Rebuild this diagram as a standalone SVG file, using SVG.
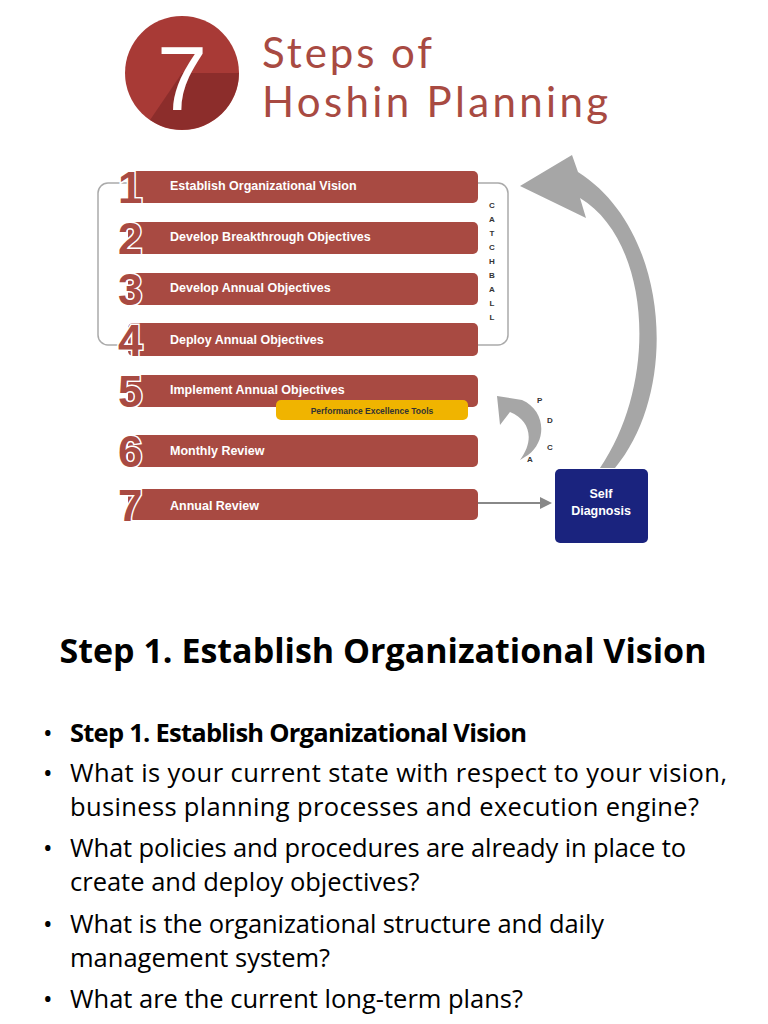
<svg xmlns="http://www.w3.org/2000/svg" width="768" height="1024" viewBox="0 0 768 1024">
<style>
.bar{fill:#a84a42}
.bt{font-family:"Liberation Sans",Arial,sans-serif;font-weight:bold;font-size:12.5px;fill:#fff}
.num{font-family:"Liberation Sans",Arial,sans-serif;font-weight:bold;font-size:44px;fill:#a84a42;stroke:#fff;stroke-width:3;paint-order:stroke}
.cb{font-family:"Liberation Sans",Arial,sans-serif;font-weight:bold;font-size:8px;fill:#333}
.body{font-family:"Open Sans","Liberation Sans",sans-serif;font-size:25.5px;fill:#000}
</style>
<rect width="768" height="1024" fill="#fff"/>
<g id="logo">
<circle cx="182" cy="73" r="57" fill="#a83a36"/>
<path d="M182,73 L239,73 A57,57 0 0 1 150,120 Z" fill="#7a2424" opacity="0.6"/>
<text x="182" y="110" text-anchor="middle" font-family="Liberation Sans,sans-serif" font-size="90" fill="#fff">7</text>
<text x="262" y="68" font-family="Lato,'Open Sans',sans-serif" font-size="42" fill="#a84a42" textLength="170">Steps of</text>
<text x="262" y="117" font-family="Lato,'Open Sans',sans-serif" font-size="42" fill="#a84a42" textLength="346">Hoshin Planning</text>
</g>
<g id="connectors">
<rect x="98" y="183" width="410" height="162" rx="10" fill="none" stroke="#aaa" stroke-width="1.5"/>
<path d="M600,468 C660,380 650,240 580,198 L586,218 L520,186 L572,155 L578,172 C670,230 680,390 615,468 Z" fill="#a6a6a6"/>
<path d="M522,400 C545,410 548,440 528,455 L520,460 C535,440 530,420 510,412 L500,425 L497,396 Z" fill="#a6a6a6"/>
<line x1="478" y1="503" x2="540" y2="503" stroke="#888" stroke-width="2"/>
<polygon points="540,497 552,503 540,509" fill="#888"/>
</g>
<g id="catchball">
<text class="cb" text-anchor="middle" x="492"><tspan x="492" y="208">C</tspan><tspan x="492" y="222">A</tspan><tspan x="492" y="236">T</tspan><tspan x="492" y="250">C</tspan><tspan x="492" y="264">H</tspan><tspan x="492" y="278">B</tspan><tspan x="492" y="292">A</tspan><tspan x="492" y="306">L</tspan><tspan x="492" y="320">L</tspan></text>
<text class="cb" x="537" y="403">P</text><text class="cb" x="547" y="423">D</text><text class="cb" x="547" y="450">C</text><text class="cb" x="527" y="462">A</text>
</g>
<g id="s1"><rect class="bar" x="128" y="171" width="350" height="32" rx="5"/><text class="num" x="118" y="203">1</text><text class="bt" x="170" y="190">Establish Organizational Vision</text></g>
<g id="s2"><rect class="bar" x="128" y="222" width="350" height="32" rx="5"/><text class="num" x="118" y="254">2</text><text class="bt" x="170" y="241">Develop Breakthrough Objectives</text></g>
<g id="s3"><rect class="bar" x="128" y="273" width="350" height="32" rx="5"/><text class="num" x="118" y="305">3</text><text class="bt" x="170" y="292">Develop Annual Objectives</text></g>
<g id="s4"><rect class="bar" x="128" y="323" width="350" height="33" rx="5"/><text class="num" x="118" y="356">4</text><text class="bt" x="170" y="344">Deploy Annual Objectives</text></g>
<g id="s5"><rect class="bar" x="128" y="375" width="350" height="32" rx="5"/><text class="num" x="118" y="407">5</text><text class="bt" x="170" y="394">Implement Annual Objectives</text>
<rect x="276" y="400" width="192" height="20" rx="5" fill="#f0b400"/><text x="372" y="414" text-anchor="middle" font-family="Liberation Sans,sans-serif" font-weight="bold" font-size="8.5" fill="#333">Performance Excellence Tools</text></g>
<g id="s6"><rect class="bar" x="128" y="435" width="350" height="32" rx="5"/><text class="num" x="118" y="467">6</text><text class="bt" x="170" y="455">Monthly Review</text></g>
<g id="s7"><rect class="bar" x="128" y="489" width="350" height="31" rx="5"/><text class="num" x="118" y="521">7</text><text class="bt" x="170" y="510">Annual Review</text></g>
<g id="self"><rect x="555" y="469" width="93" height="74" rx="5" fill="#1a237e"/><text x="601" y="498" text-anchor="middle" class="bt" font-size="12">Self</text><text x="601" y="515" text-anchor="middle" class="bt" font-size="12">Diagnosis</text></g>
<text x="383" y="663" text-anchor="middle" font-family="'Open Sans','Liberation Sans',sans-serif" font-weight="bold" font-size="34">Step 1. Establish Organizational Vision</text>
<g class="body">
<text x="43" y="742">•</text><text x="70" y="742" font-weight="bold" textLength="457">Step 1. Establish Organizational Vision</text>
<text x="43" y="782">•</text><text x="70" y="782" textLength="657">What is your current state with respect to your vision,</text>
<text x="70" y="816" textLength="629">business planning processes and execution engine?</text>
<text x="43" y="857">•</text><text x="70" y="857" textLength="616">What policies and procedures are already in place to</text>
<text x="70" y="891">create and deploy objectives?</text>
<text x="43" y="933">•</text><text x="70" y="933" textLength="534">What is the organizational structure and daily</text>
<text x="70" y="967">management system?</text>
<text x="43" y="1008">•</text><text x="70" y="1008" textLength="453">What are the current long-term plans?</text>
</g>
</svg>
